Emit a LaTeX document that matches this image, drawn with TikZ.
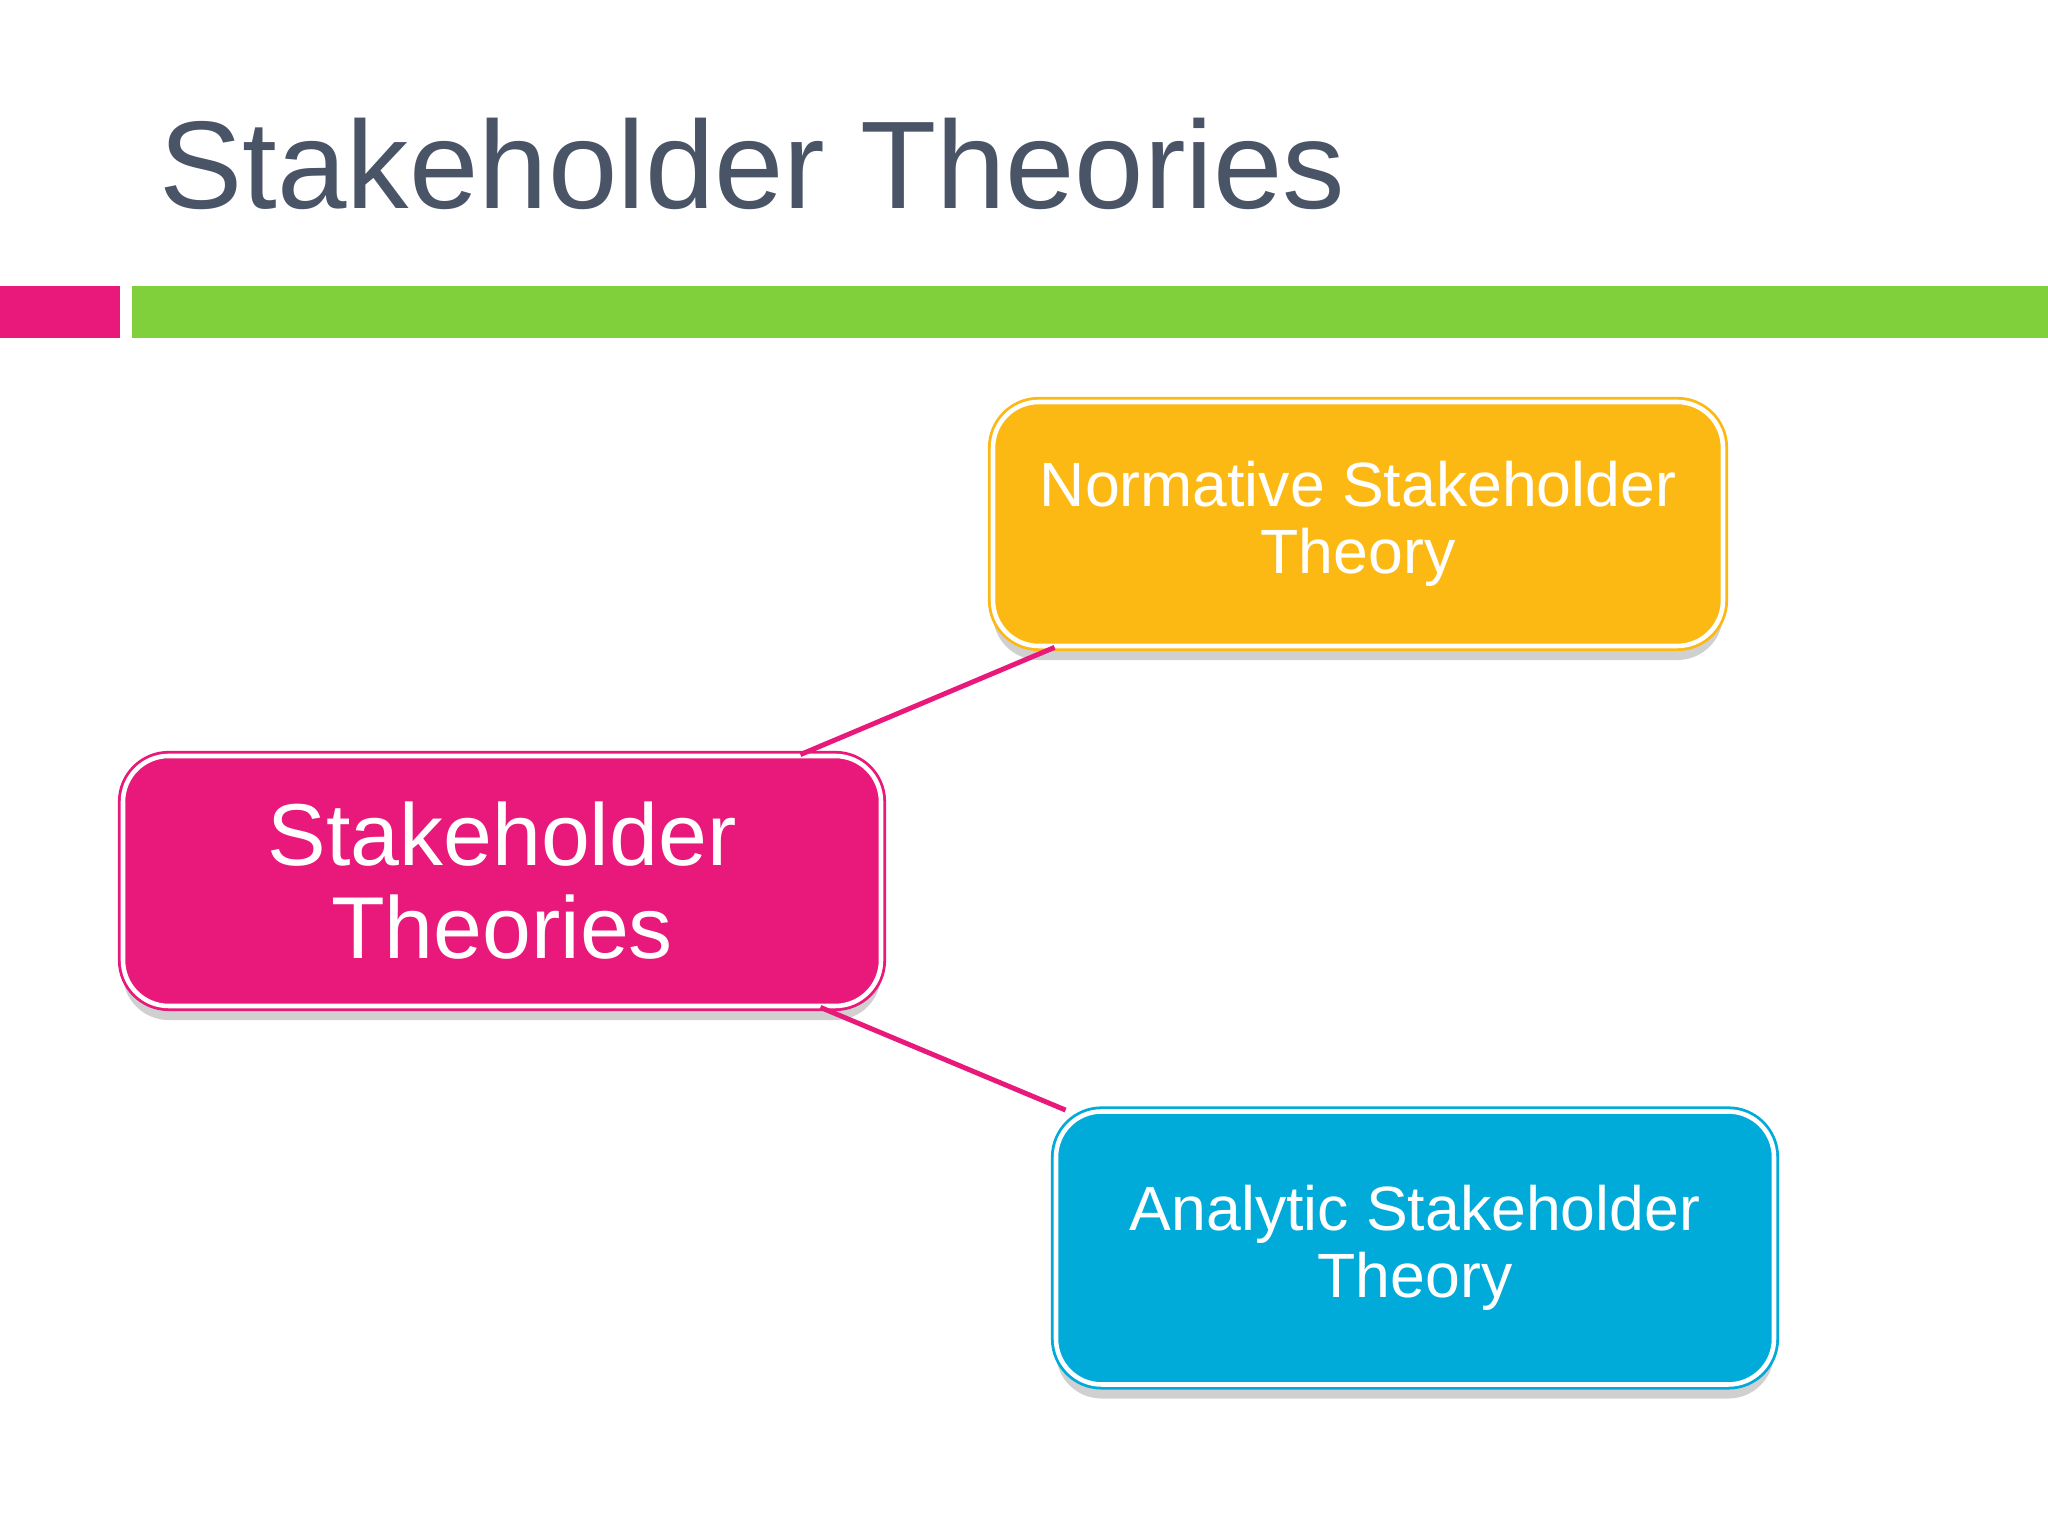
\documentclass[tikz,border=0pt]{standalone}
\usepackage{fontspec}
\setmainfont{Liberation Sans}
\usepackage{tikz}
\usetikzlibrary{shapes,positioning,shadows,calc}
\definecolor{titlegray}{RGB}{74, 84, 103}
\definecolor{hubpink}{RGB}{232, 25, 122}
\definecolor{bargreen}{RGB}{128, 208, 60}
\definecolor{normyellow}{RGB}{253, 185, 19}
\definecolor{analyticblue}{RGB}{0, 171, 217}

\begin{document}
\begin{tikzpicture}[
    % box styles with white inner rim and soft shadow
    theorybox/.style={rectangle, rounded corners=13pt, draw=#1, double=white, double distance=1.3pt, line width=0.8pt, fill=#1, text=white, align=center, inner sep=2pt, drop shadow={shadow xshift=0pt, shadow yshift=-4pt, opacity=0.3, fill=black!60}},
    smalltext/.style={font=\fontsize{17.8}{19}\selectfont},
    bigtext/.style={font=\fontsize{25}{26.5}\selectfont},
    link/.style={draw=hubpink, line width=1.4pt}
]
\useasboundingbox (0,0) rectangle (20.48,15.36);
\fill[white] (0,0) rectangle (20.48,15.36);

% Title and header bars
\node [anchor=base west, inner sep=0pt, text=titlegray, font=\fontsize{35.5}{40}\selectfont] (title) at (1.59,13.27) {Stakeholder Theories};
\fill [hubpink] (0,12.50) rectangle (1.20,11.98);
\fill [bargreen] (1.32,12.50) rectangle (20.48,11.98);

% Boxes
\node [theorybox=normyellow, smalltext, minimum width=7.3cm, minimum height=2.44cm] (normative) at (13.58,10.12) {Normative Stakeholder\\Theory};
\node [theorybox=hubpink, bigtext, minimum width=7.58cm, minimum height=2.5cm] (hub) at (5.02,6.55) {Stakeholder\\Theories};
\node [theorybox=analyticblue, smalltext, minimum width=7.18cm, minimum height=2.73cm] (analytic) at (14.15,2.88) {Analytic Stakeholder\\Theory};

% Connectors
\draw [link] ([xshift=-0.82cm]hub.north east) -- ([xshift=0.63cm]normative.south west);
\draw [link] ([xshift=-0.62cm]hub.south east) -- ([xshift=0.11cm]analytic.north west);

\end{tikzpicture}
\end{document}
